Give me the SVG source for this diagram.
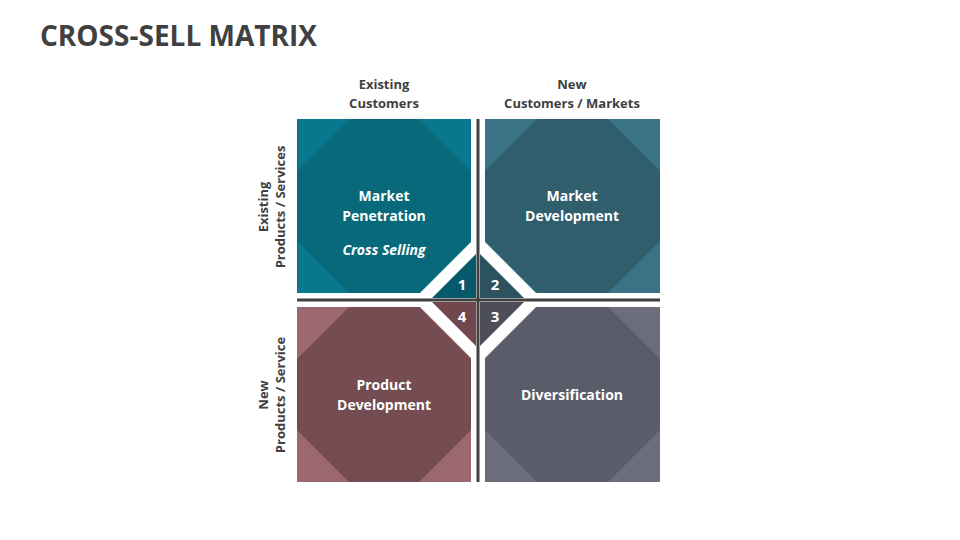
<svg xmlns="http://www.w3.org/2000/svg" width="960" height="540" viewBox="0 0 960 540">
<style>
.h{font-family:"Open Sans","Liberation Sans",sans-serif;font-weight:bold;fill:#404040;font-size:13px;text-anchor:middle}
.q{font-family:"Open Sans","Liberation Sans",sans-serif;font-weight:bold;fill:#fff;font-size:14px;text-anchor:middle}
.n{font-family:"Open Sans","Liberation Sans",sans-serif;font-weight:bold;fill:#fff;font-size:15px;text-anchor:middle}
</style>
<defs>
<clipPath id="c1"><polygon points="297,119 471,119 471,242 420,293 297,293"/></clipPath>
<clipPath id="c2"><polygon points="485,119 660,119 660,293 536,293 485,242"/></clipPath>
<clipPath id="c4"><polygon points="297,307 420,307 471,358 471,482 297,482"/></clipPath>
<clipPath id="c3"><polygon points="536,307 660,307 660,482 485,482 485,358"/></clipPath>
</defs>
<rect width="960" height="540" fill="#fff"/>
<text x="40" y="46" font-family="'Open Sans','Liberation Sans',sans-serif" font-weight="bold" font-size="28" fill="#404040">CROSS-SELL MATRIX</text>
<g id="headers">
<text class="h" x="384" y="89">Existing</text><text class="h" x="384" y="108">Customers</text>
<text class="h" x="572" y="89">New</text><text class="h" x="572" y="108">Customers / Markets</text>
<text class="h" transform="translate(268,207) rotate(-90)">Existing</text>
<text class="h" transform="translate(285,207) rotate(-90)">Products / Services</text>
<text class="h" transform="translate(268,395) rotate(-90)">New</text>
<text class="h" transform="translate(285,395) rotate(-90)">Products / Service</text>
</g>
<g id="q1" clip-path="url(#c1)">
<rect x="297" y="119" width="174" height="174" fill="#08788F"/>
<polygon points="349,119 419,119 471,171 471,241 419,293 349,293 297,241 297,171" fill="#07697A"/>
<text class="q" x="384" y="201">Market</text><text class="q" x="384" y="221">Penetration</text>
<text class="q" x="384" y="255" font-size="12" font-style="italic">Cross Selling</text>
</g>
<g id="q2" clip-path="url(#c2)">
<rect x="485" y="119" width="175" height="174" fill="#3A7385"/>
<polygon points="537,119 608,119 660,171 660,241 608,293 537,293 485,241 485,171" fill="#305E6D"/>
<text class="q" x="572" y="201">Market</text><text class="q" x="572" y="221">Development</text>
</g>
<g id="q4" clip-path="url(#c4)">
<rect x="297" y="307" width="174" height="175" fill="#9C6870"/>
<polygon points="349,307 419,307 471,359 471,430 419,482 349,482 297,430 297,359" fill="#744C51"/>
<text class="q" x="384" y="390">Product</text><text class="q" x="384" y="410">Development</text>
</g>
<g id="q3" clip-path="url(#c3)">
<rect x="485" y="307" width="175" height="175" fill="#6C6D7B"/>
<polygon points="537,307 608,307 660,359 660,430 608,482 537,482 485,430 485,359" fill="#5B5C69"/>
<text class="q" x="572" y="400">Diversification</text>
</g>
<g id="centre">
<polygon points="476,254 476,298 432,298" fill="#06586A"/>
<polygon points="480,254 480,298 524,298" fill="#2D5360"/>
<polygon points="476,302 476,346 432,302" fill="#6F474C"/>
<polygon points="480,302 480,346 524,302" fill="#4D4E5A"/>
<text class="n" x="462" y="290">1</text><text class="n" x="495" y="290">2</text>
<text class="n" x="462" y="322">4</text><text class="n" x="495" y="322">3</text>
</g>
<g id="connectors">
<rect x="476.5" y="119" width="3" height="363" fill="#404040"/>
<rect x="297" y="298.5" width="363" height="3" fill="#404040"/>
</g>
</svg>
